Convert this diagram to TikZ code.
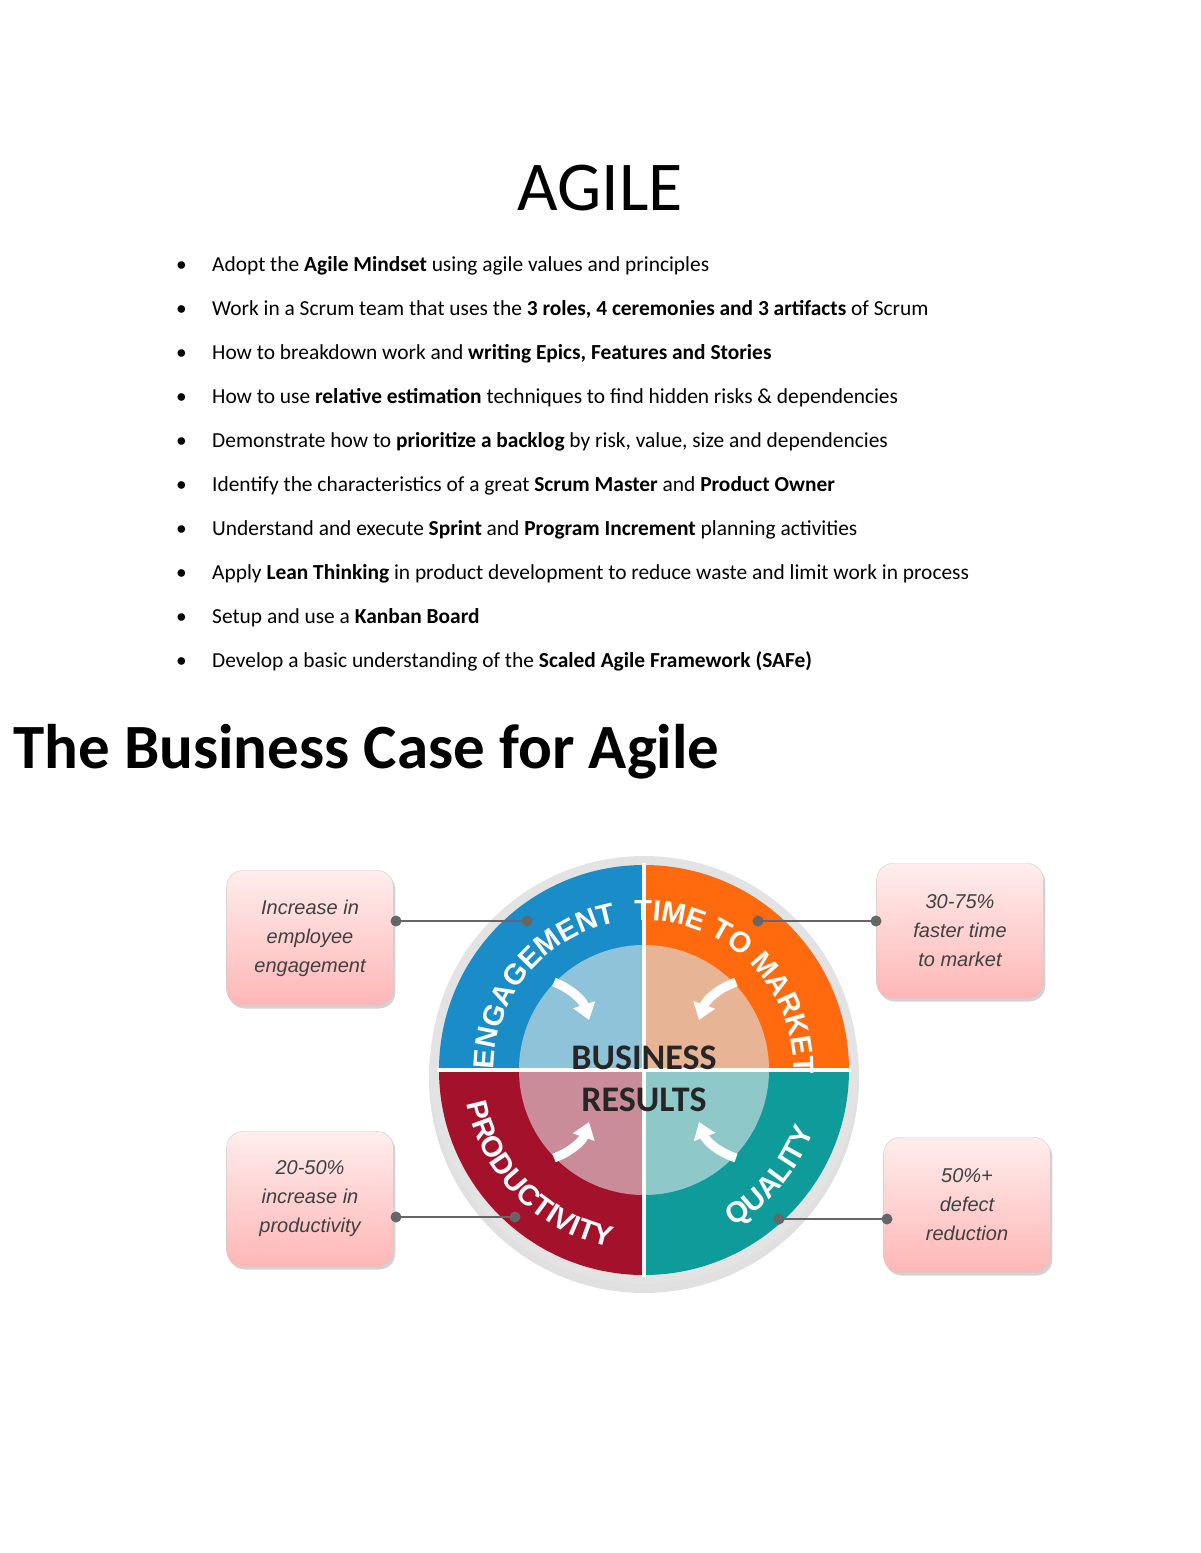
\documentclass[tikz,border=0pt]{standalone}
\usepackage{fontspec}
\setmainfont{Carlito}
\newfontfamily\arialf{Liberation Sans}
\usetikzlibrary{decorations.text,shadows,arrows.meta}
\definecolor{qblue}{HTML}{1A8CC8}
\definecolor{qorange}{HTML}{FF6A0E}
\definecolor{qred}{HTML}{A3122A}
\definecolor{qteal}{HTML}{0F9B9A}
\definecolor{lblue}{HTML}{8EC3DA}
\definecolor{lorange}{HTML}{E8B496}
\definecolor{lred}{HTML}{C98C98}
\definecolor{lteal}{HTML}{8EC8C8}
\definecolor{connc}{HTML}{666666}
\definecolor{boxtop}{HTML}{FFEDED}
\definecolor{boxbot}{HTML}{FFB6B6}
\begin{document}
\begin{tikzpicture}[x=1pt,y=1pt,
  bul/.style={anchor=base west,inner sep=0pt,font=\fontsize{21.4}{24}\selectfont},
  dotc/.style={circle,fill=connc,inner sep=0pt,minimum size=11pt},
  conn/.style={draw=connc,line width=2.5pt},
  infobox/.style={draw=gray!40,rounded corners=16pt,top color=boxtop,bottom color=boxbot,
    drop shadow={shadow xshift=2pt,shadow yshift=-3pt,opacity=0.35},
    minimum width=165pt,minimum height=135pt,align=center,
    font=\arialf\itshape\fontsize{20}{29}\selectfont,text=black!75},
  warr/.style={white,line width=9pt,-{Triangle[length=16pt,width=22pt]}},
  ringtxt/.style={decorate,decoration={text along path,text align=center,
    text color=white,text={#1}}}
  ]
\useasboundingbox (0,0) rectangle (1200,-1553);
\node (title) at (600,-188) {\fontsize{70}{80}\selectfont AGILE};
\foreach \i/\t in {
 0/{Adopt the \textbf{Agile Mindset} using agile values and principles},
 1/{Work in a Scrum team that uses the \textbf{3 roles, 4 ceremonies and 3 artifacts} of Scrum},
 2/{How to breakdown work and \textbf{writing Epics, Features and Stories}},
 3/{How to use \textbf{relative estimation} techniques to find hidden risks \& dependencies},
 4/{Demonstrate how to \textbf{prioritize a backlog} by risk, value, size and dependencies},
 5/{Identify the characteristics of a great \textbf{Scrum Master} and \textbf{Product Owner}},
 6/{Understand and execute \textbf{Sprint} and \textbf{Program Increment} planning activities},
 7/{Apply \textbf{Lean Thinking} in product development to reduce waste and limit work in process},
 8/{Setup and use a \textbf{Kanban Board}},
 9/{Develop a basic understanding of the \textbf{Scaled Agile Framework (SAFe)}}}{
  \node[bul] (b\i) at (212,-271-44.1*\i) {\t};
  \node[bul] (d\i) at (176,-271-44.1*\i) {\textbullet};
}
\node[anchor=base west,inner sep=0pt,font=\bfseries\fontsize{63}{70}\selectfont] (bc) at (13,-768) {The Business Case for Agile};
% circle
\begin{scope}[shift={(644,-1070)}]
 \fill[black,opacity=0.12] (0,-8) ellipse (215 and 215);
 \fill[gray!22] (0,0) circle (214);
 \fill[qblue] (0,0) -- (180:205) arc (180:90:205) -- cycle;
 \fill[qorange] (0,0) -- (90:205) arc (90:0:205) -- cycle;
 \fill[qteal] (0,0) -- (0:205) arc (0:-90:205) -- cycle;
 \fill[qred] (0,0) -- (-90:205) arc (-90:-180:205) -- cycle;
 \fill[lblue] (0,0) -- (180:125) arc (180:90:125) -- cycle;
 \fill[lorange] (0,0) -- (90:125) arc (90:0:125) -- cycle;
 \fill[lteal] (0,0) -- (0:125) arc (0:-90:125) -- cycle;
 \fill[lred] (0,0) -- (-90:125) arc (-90:-180:125) -- cycle;
 \draw[white,line width=4pt] (-207,0) -- (207,0) (0,-207) -- (0,207);
 \path[ringtxt={|\arialf\bfseries\fontsize{29}{29}\selectfont|ENGAGEMENT}] (198:150) arc (198:82:150);
 \path[ringtxt={|\arialf\bfseries\fontsize{29}{29}\selectfont|TIME TO MARKET}] (98:150) arc (98:-6:150);
 \path[ringtxt={|\arialf\bfseries\fontsize{29}{29}\selectfont|PRODUCTIVITY}] (166:180) arc (166:284:180);
 \path[ringtxt={|\arialf\bfseries\fontsize{29}{29}\selectfont|QUALITY}] (-82:180) arc (-82:2:180);
 \draw[warr] (-90,88) to[bend left=25] (-55,50);
 \draw[warr] (92,88) to[bend right=25] (55,50);
 \draw[warr] (-90,-88) to[bend right=25] (-55,-52);
 \draw[warr] (92,-88) to[bend left=25] (55,-52);
 \node[font=\bfseries\fontsize{36}{42}\selectfont,text=black!85] (br1) at (0,12) {BUSINESS};
 \node[font=\bfseries\fontsize{36}{42}\selectfont,text=black!85] (br2) at (0,-30) {RESULTS};
\end{scope}
% boxes
\node[infobox] (bx1) at (310,-938) {\raisebox{-6pt}{\parbox{160pt}{\centering Increase in\\employee\\engagement}}};
\node[infobox] (bx2) at (960,-931) {\raisebox{-4pt}{\parbox{160pt}{\centering 30-75\%\\faster time\\to market}}};
\node[infobox] (bx3) at (310,-1199) {\raisebox{-3pt}{\parbox{160pt}{\centering 20-50\%\\increase in\\productivity}}};
\node[infobox] (bx4) at (967,-1205) {\raisebox{-4pt}{\parbox{160pt}{\centering 50\%+\\defect\\reduction}}};
\coordinate (p1) at (527,-921);
\coordinate (p2) at (758,-921);
\coordinate (p3) at (515,-1217);
\coordinate (p4) at (779,-1219);
\coordinate (q1) at (396,-921);
\coordinate (q2) at (876,-921);
\coordinate (q3) at (396,-1217);
\coordinate (q4) at (887,-1219);
\foreach \k in {1,2,3,4}{
 \draw[conn] (q\k) -- (p\k);
 \node[dotc] at (q\k) {};
 \node[dotc] at (p\k) {};
}
\end{tikzpicture}
\end{document}
